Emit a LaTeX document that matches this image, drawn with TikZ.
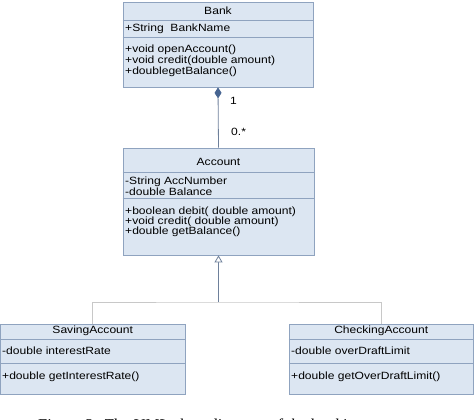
\documentclass[tikz,border=0pt]{standalone}
\usepackage{fontspec}
\setmainfont{Liberation Serif}
\newfontfamily\umlfont{Liberation Sans}[FakeStretch=1.15]
\usetikzlibrary{arrows.meta}

\definecolor{classfill}{RGB}{220,230,242}
\definecolor{classline}{RGB}{143,163,191}
\definecolor{linkgray}{RGB}{200,200,200}
\definecolor{linkblue}{RGB}{110,128,155}
\definecolor{diamondblue}{RGB}{70,100,145}

\tikzset{
  classbox/.style={draw=classline, fill=classfill, line width=0.8pt, inner sep=0pt},
  sepline/.style={draw=classline, line width=0.8pt},
  member/.style={anchor=west, inner sep=0pt, font=\umlfont\fontsize{10.5}{11}\selectfont},
  classname/.style={inner sep=0pt, font=\umlfont\fontsize{10.5}{11}\selectfont},
}

\begin{document}
\begin{tikzpicture}[x=1pt,y=-1pt]
  \useasboundingbox (0,0) rectangle (474,420);
  \clip (0,0) rectangle (474,420);

  % class Bank
  \node[classbox, minimum width=190pt, minimum height=85pt] (bank) at (218,44.5) {};
  \draw[sepline] (bank.west |- 0,20) -- (bank.east |- 0,20);
  \draw[sepline] (bank.west |- 0,37) -- (bank.east |- 0,37);
  \node[classname] (bankname) at (bank.north |- 0,11) {Bank};
  \node[member] (bank-a1) at (125,28.5) {+String\ \ BankName};
  \node[member] (bank-m1) at (125,50) {+void openAccount()};
  \node[member] (bank-m2) at (125,61) {+void credit(double amount)};
  \node[member] (bank-m3) at (125,72) {+doublegetBalance()};

  % class Account
  \node[classbox, minimum width=191pt, minimum height=107pt] (account) at (218.5,201.5) {};
  \draw[sepline] (account.west |- 0,172) -- (account.east |- 0,172);
  \draw[sepline] (account.west |- 0,198) -- (account.east |- 0,198);
  \node[classname] (accountname) at (account.north |- 0,162) {Account};
  \node[member] (account-a1) at (125,182) {-String AccNumber};
  \node[member] (account-a2) at (125,192) {-double Balance};
  \node[member] (account-m1) at (125,212) {+boolean debit( double amount)};
  \node[member] (account-m2) at (125,222) {+void credit( double amount)};
  \node[member] (account-m3) at (125,232) {+double getBalance()};

  % class SavingAccount
  \node[classbox, minimum width=184.5pt, minimum height=70pt] (saving) at (92.75,359) {};
  \draw[sepline] (saving.west |- 0,339) -- (saving.east |- 0,339);
  \draw[sepline] (saving.west |- 0,363) -- (saving.east |- 0,363);
  \node[classname] (savingname) at (saving.north |- 0,331) {SavingAccount};
  \node[member] (saving-a1) at (2,351) {-double interestRate};
  \node[member] (saving-m1) at (2,377) {+double getInterestRate()};

  % class CheckingAccount
  \node[classbox, minimum width=184.5pt, minimum height=70pt] (checking) at (381.25,359) {};
  \draw[sepline] (checking.west |- 0,339) -- (checking.east |- 0,339);
  \draw[sepline] (checking.west |- 0,363) -- (checking.east |- 0,363);
  \node[classname] (checkingname) at (checking.north |- 0,331) {CheckingAccount};
  \node[member] (checking-a1) at (291,351) {-double overDraftLimit};
  \node[member] (checking-m1) at (291,377) {+double getOverDraftLimit()};

  % composition Bank -- Account
  \draw[linkblue, line width=0.8pt, -{Diamond[color=diamondblue, length=11pt, width=7pt]}] (account.north) -- (bank.south);
  \node[member] (mult-one) at (230,101) {1};
  \node[member] (mult-many) at (231,132) {0.*};

  % generalisation
  \coordinate (fork) at (account.south |- 0,302);
  \draw[linkgray, line width=0.8pt] (saving.north) |- (fork) -| (checking.north);
  \draw[linkblue, line width=0.8pt, -{Triangle[fill=white, length=7pt, width=8pt]}] (fork) -- (account.south);

  % caption (cut off by the bottom edge)
  \node[anchor=base west, inner sep=0pt, font=\fontsize{16.5}{18}\selectfont] (caption) at (38,430)
    {Figure 3: \textit{The UML class diagram of the banking system}};
\end{tikzpicture}
\end{document}
